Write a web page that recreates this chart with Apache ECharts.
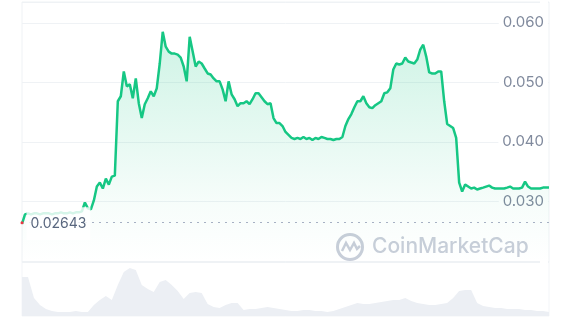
<!DOCTYPE html>
<html>
<head>
<meta charset="utf-8">
<script src="https://cdn.jsdelivr.net/npm/echarts@6/dist/echarts.min.js"></script>
<style>
  html, body { margin: 0; padding: 0; background: #fff; }
  #chart { width: 576px; height: 323px; }
</style>
</head>
<body>
<div id="chart"></div>
<script>
// opening price of the period (dotted reference line)
const openPrice = 0.02643;

// price, one sample per step across the week
const price = [
  0.02625, 0.02783, 0.02800, 0.02783, 0.02800, 0.02800, 0.02783, 0.02800, 0.02800, 0.02800,
  0.02783, 0.02800, 0.02800, 0.02817, 0.02800, 0.02800, 0.02817, 0.02800, 0.02817, 0.02817,
  0.02833, 0.02983, 0.02883, 0.02867, 0.03017, 0.03250, 0.03317, 0.03217, 0.03383, 0.03283,
  0.03417, 0.03433, 0.04683, 0.04767, 0.05183, 0.04933, 0.04967, 0.04733, 0.05067, 0.04650,
  0.04400, 0.04633, 0.04733, 0.04850, 0.04767, 0.04900, 0.05317, 0.05850, 0.05600, 0.05517,
  0.05483, 0.05483, 0.05467, 0.05417, 0.05267, 0.05017, 0.05767, 0.05517, 0.05267, 0.05350,
  0.05317, 0.05233, 0.05150, 0.05133, 0.05067, 0.05017, 0.05017, 0.04883, 0.04683, 0.05017,
  0.04800, 0.04717, 0.04600, 0.04650, 0.04650, 0.04683, 0.04633, 0.04717, 0.04817, 0.04817,
  0.04750, 0.04683, 0.04633, 0.04650, 0.04400, 0.04317, 0.04317, 0.04267, 0.04167, 0.04117,
  0.04067, 0.04050, 0.04067, 0.04050, 0.04083, 0.04050, 0.04067, 0.04033, 0.04067, 0.04050,
  0.04083, 0.04067, 0.04050, 0.04050, 0.04033, 0.04050, 0.04050, 0.04083, 0.04267, 0.04383,
  0.04467, 0.04583, 0.04683, 0.04683, 0.04767, 0.04650, 0.04583, 0.04567, 0.04617, 0.04650,
  0.04683, 0.04817, 0.04833, 0.04900, 0.05217, 0.05317, 0.05300, 0.05317, 0.05417, 0.05350,
  0.05333, 0.05317, 0.05383, 0.05550, 0.05633, 0.05433, 0.05167, 0.05150, 0.05150, 0.05183,
  0.05183, 0.04683, 0.04300, 0.04267, 0.04233, 0.04067, 0.03317, 0.03167, 0.03283, 0.03250,
  0.03217, 0.03233, 0.03200, 0.03217, 0.03233, 0.03250, 0.03267, 0.03233, 0.03217, 0.03217,
  0.03217, 0.03217, 0.03233, 0.03250, 0.03217, 0.03217, 0.03217, 0.03233, 0.03333, 0.03250,
  0.03217, 0.03217, 0.03217, 0.03217, 0.03233, 0.03233, 0.03233
];

// trading volume (relative units), coarser steps
const volume = [
  39, 39, 18, 11, 7, 5, 4, 4, 4, 5,
  4, 4, 11, 16, 20, 16, 31, 44, 48, 46,
  31, 27, 24, 34, 36, 31, 25, 17, 23, 24,
  23, 12, 9, 8, 11, 13, 13, 6, 7, 7,
  8, 9, 8, 7, 6, 5, 5, 6, 6, 5,
  5, 4, 5, 7, 9, 11, 13, 12, 12, 13,
  14, 15, 16, 16, 18, 15, 13, 12, 11, 11,
  12, 13, 18, 25, 26, 26, 13, 10, 9, 8,
  8, 7, 7, 7, 6, 6, 5, 5, 4
];

const priceSteps = price.map((_, i) => i);
const volumeSteps = volume.map((_, i) => i);

const green = '#16c784';
const red = '#ea3943';
const axisGrey = '#808a9d';
const watermark = '#c8ced9';

const chart = echarts.init(document.getElementById('chart'));

chart.setOption({
  backgroundColor: '#fff',
  animation: false,
  textStyle: { fontFamily: 'Inter' },
  grid: [
    { left: 22, right: 27, top: 0, bottom: 61, show: true, borderColor: '#eff2f5', borderWidth: 1 },
    { left: 22, right: 27, top: 262, bottom: 7, show: true, borderColor: '#f3f5f8', borderWidth: 1 }
  ],
  xAxis: [
    { gridIndex: 0, type: 'category', data: priceSteps, boundaryGap: false, show: false },
    { gridIndex: 1, type: 'category', data: volumeSteps, boundaryGap: false, show: false }
  ],
  yAxis: [
    {
      gridIndex: 0,
      type: 'value',
      position: 'right',
      min: 0.019833,
      max: 0.0635,
      splitNumber: 4,
      axisLine: { show: false },
      axisTick: { show: false },
      axisLabel: {
        inside: true,
        margin: 1,
        color: axisGrey,
        fontSize: 15,
        backgroundColor: '#fff',
        padding: [2, 4, 2, 4],
        formatter: function (v) {
          return (v > 0.025 && v < 0.061) ? v.toFixed(3) : '';
        }
      },
      splitLine: { lineStyle: { color: '#eff2f5' } }
    },
    { gridIndex: 1, type: 'value', min: 0, max: 54, show: false, splitLine: { show: false } }
  ],
  graphic: [
    {
      type: 'circle',
      z: 1,
      shape: { cx: 350, cy: 247, r: 12.5 },
      style: { fill: 'none', stroke: watermark, lineWidth: 3 }
    },
    {
      type: 'polyline',
      z: 1,
      shape: { points: [[342, 251], [346, 243], [350, 250], [354, 243], [357, 249], [360, 246]] },
      style: { fill: 'none', stroke: watermark, lineWidth: 2.5 }
    },
    {
      type: 'text',
      z: 1,
      left: 372,
      top: 236,
      style: { text: 'CoinMarketCap', fill: watermark, font: '500 21px Inter' }
    }
  ],
  series: [
    {
      name: 'Price',
      type: 'line',
      xAxisIndex: 0,
      yAxisIndex: 0,
      data: price,
      symbol: 'none',
      z: 3,
      color: green,
      lineStyle: { width: 2.5, color: green },
      areaStyle: {
        color: new echarts.graphic.LinearGradient(0, 0, 0, 1, [
          { offset: 0, color: 'rgba(22,199,132,0.30)' },
          { offset: 0.75, color: 'rgba(22,199,132,0.05)' },
          { offset: 1, color: 'rgba(22,199,132,0.0)' }
        ])
      },
      markLine: {
        silent: true,
        symbol: 'none',
        z: 4,
        label: { show: false },
        lineStyle: { color: '#a6b0c3', type: [2, 5], width: 1 },
        data: [[
          { coord: [0, openPrice] },
          { coord: [price.length - 1, openPrice] }
        ]]
      },
      markPoint: {
        silent: true,
        z: 10,
        symbol: 'circle',
        symbolSize: 3,
        itemStyle: { color: red },
        label: {
          show: true,
          position: 'right',
          distance: 3,
          offset: [0, 1],
          color: '#58667e',
          fontSize: 14,
          backgroundColor: 'rgba(255,255,255,0.82)',
          padding: [13, 4, 6, 4],
          formatter: String(openPrice)
        },
        data: [{ coord: [0, openPrice] }]
      }
    },
    {
      name: 'Volume',
      type: 'line',
      xAxisIndex: 1,
      yAxisIndex: 1,
      data: volume,
      symbol: 'none',
      silent: true,
      lineStyle: { width: 0 },
      itemStyle: { color: '#eceff4' },
      areaStyle: { color: '#eceff4', opacity: 1 }
    }
  ]
});
</script>
</body>
</html>
